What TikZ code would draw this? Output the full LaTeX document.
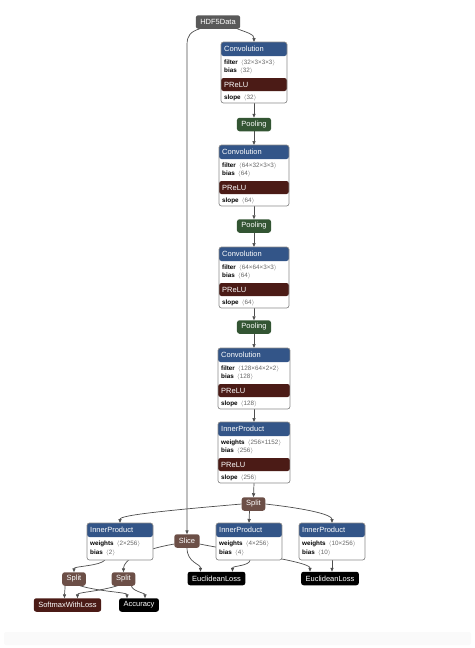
\documentclass[tikz,border=0pt]{standalone}
\usepackage{fontspec}
\setmainfont{Liberation Sans}
\usepackage{tikz}
\usetikzlibrary{arrows.meta}
\usetikzlibrary{backgrounds}

\definecolor{layerblue}{HTML}{335588}
\definecolor{actred}{HTML}{4B1B16}
\definecolor{poolgreen}{HTML}{335533}
\definecolor{tensorbrown}{HTML}{6C4F47}
\definecolor{datagray}{HTML}{595959}
\definecolor{boxgray}{HTML}{8A8A8A}
\definecolor{edgegray}{HTML}{4D4D4D}
\definecolor{valgray}{HTML}{666666}

\begin{document}
\begin{tikzpicture}[x=1pt, y=-1pt, >={Triangle[length=4pt,width=3.2pt]},
    line cap=round, line join=round,
    op/.style={rounded corners=2.5pt, text=white, font=\fontsize{7.5}{8}\selectfont,
        inner xsep=4.5pt, inner ysep=0pt, minimum height=13.5pt, outer sep=0pt},
    layer/.style={draw=boxgray, fill=white, line width=0.7pt, rounded corners=2.5pt,
        anchor=north, inner sep=0pt, outer sep=0pt, minimum width=#1},
    full/.style={layer=#1, minimum height=61pt, path picture={
        \fill[layerblue] (path picture bounding box.north west) rectangle ([yshift=-14pt]path picture bounding box.north east);
        \fill[actred] ([yshift=-36pt]path picture bounding box.north west) rectangle ([yshift=-49pt]path picture bounding box.north east);}},
    small/.style={layer=#1, minimum height=37pt, path picture={
        \fill[layerblue] (path picture bounding box.north west) rectangle ([yshift=-14pt]path picture bounding box.north east);}},
    ttl/.style={anchor=west, inner sep=0pt, text=white, font=\fontsize{7.5}{8}\selectfont},
    attr/.style={anchor=west, inner sep=0pt, font=\fontsize{6.3}{7}\selectfont},
    edge/.style={->, draw=edgegray, line width=0.7pt},
]

    \useasboundingbox (0,0) rectangle (474,648);
    \fill[gray!4, rounded corners=2pt] (4,632) rectangle (471,645);

    % input
    \node[op, fill=datagray] (hdf) at (218,22) {HDF5Data};

    % conv 1
    \node[full=66pt] (conv1) at (254,42) {};
    \node[ttl] (c1t) at ([xshift=3pt,yshift=-7pt]conv1.north west) {Convolution};
    \node[attr] (c1f) at ([xshift=3pt,yshift=-20.5pt]conv1.north west) {\textbf{filter}\hspace{3pt}{\color{valgray}$\langle$32×3×3×3$\rangle$}};
    \node[attr] (c1b) at ([xshift=3pt,yshift=-29pt]conv1.north west) {\textbf{bias}\hspace{3pt}{\color{valgray}$\langle$32$\rangle$}};
    \node[ttl] (c1p) at ([xshift=3pt,yshift=-42.5pt]conv1.north west) {PReLU};
    \node[attr] (c1s) at ([xshift=3pt,yshift=-55.5pt]conv1.north west) {\textbf{slope}\hspace{3pt}{\color{valgray}$\langle$32$\rangle$}};

    \node[op, fill=poolgreen] (pool1) at (254,124.5) {Pooling};

    % conv 2
    \node[full=70pt] (conv2) at (254,145) {};
    \node[ttl] (c2t) at ([xshift=3pt,yshift=-7pt]conv2.north west) {Convolution};
    \node[attr] (c2f) at ([xshift=3pt,yshift=-20.5pt]conv2.north west) {\textbf{filter}\hspace{3pt}{\color{valgray}$\langle$64×32×3×3$\rangle$}};
    \node[attr] (c2b) at ([xshift=3pt,yshift=-29pt]conv2.north west) {\textbf{bias}\hspace{3pt}{\color{valgray}$\langle$64$\rangle$}};
    \node[ttl] (c2p) at ([xshift=3pt,yshift=-42.5pt]conv2.north west) {PReLU};
    \node[attr] (c2s) at ([xshift=3pt,yshift=-55.5pt]conv2.north west) {\textbf{slope}\hspace{3pt}{\color{valgray}$\langle$64$\rangle$}};

    \node[op, fill=poolgreen] (pool2) at (254,226) {Pooling};

    % conv 3
    \node[full=70pt] (conv3) at (254,247) {};
    \node[ttl] (c3t) at ([xshift=3pt,yshift=-7pt]conv3.north west) {Convolution};
    \node[attr] (c3f) at ([xshift=3pt,yshift=-20.5pt]conv3.north west) {\textbf{filter}\hspace{3pt}{\color{valgray}$\langle$64×64×3×3$\rangle$}};
    \node[attr] (c3b) at ([xshift=3pt,yshift=-29pt]conv3.north west) {\textbf{bias}\hspace{3pt}{\color{valgray}$\langle$64$\rangle$}};
    \node[ttl] (c3p) at ([xshift=3pt,yshift=-42.5pt]conv3.north west) {PReLU};
    \node[attr] (c3s) at ([xshift=3pt,yshift=-55.5pt]conv3.north west) {\textbf{slope}\hspace{3pt}{\color{valgray}$\langle$64$\rangle$}};

    \node[op, fill=poolgreen] (pool3) at (254,327) {Pooling};

    % conv 4
    \node[full=72pt] (conv4) at (254,348) {};
    \node[ttl] (c4t) at ([xshift=3pt,yshift=-7pt]conv4.north west) {Convolution};
    \node[attr] (c4f) at ([xshift=3pt,yshift=-20.5pt]conv4.north west) {\textbf{filter}\hspace{3pt}{\color{valgray}$\langle$128×64×2×2$\rangle$}};
    \node[attr] (c4b) at ([xshift=3pt,yshift=-29pt]conv4.north west) {\textbf{bias}\hspace{3pt}{\color{valgray}$\langle$128$\rangle$}};
    \node[ttl] (c4p) at ([xshift=3pt,yshift=-42.5pt]conv4.north west) {PReLU};
    \node[attr] (c4s) at ([xshift=3pt,yshift=-55.5pt]conv4.north west) {\textbf{slope}\hspace{3pt}{\color{valgray}$\langle$128$\rangle$}};

    % fully connected
    \node[full=72pt] (ip1) at (254,422) {};
    \node[ttl] (i1t) at ([xshift=3pt,yshift=-7pt]ip1.north west) {InnerProduct};
    \node[attr] (i1w) at ([xshift=3pt,yshift=-20.5pt]ip1.north west) {\textbf{weights}\hspace{3pt}{\color{valgray}$\langle$256×1152$\rangle$}};
    \node[attr] (i1b) at ([xshift=3pt,yshift=-29pt]ip1.north west) {\textbf{bias}\hspace{3pt}{\color{valgray}$\langle$256$\rangle$}};
    \node[ttl] (i1p) at ([xshift=3pt,yshift=-42.5pt]ip1.north west) {PReLU};
    \node[attr] (i1s) at ([xshift=3pt,yshift=-55.5pt]ip1.north west) {\textbf{slope}\hspace{3pt}{\color{valgray}$\langle$256$\rangle$}};

    \node[op, fill=tensorbrown] (split) at (253.5,504) {Split};

    % three heads
    \node[small=66pt] (ipL) at (120,523) {};
    \node[ttl] (iLt) at ([xshift=3pt,yshift=-7pt]ipL.north west) {InnerProduct};
    \node[attr] (iLw) at ([xshift=3pt,yshift=-21pt]ipL.north west) {\textbf{weights}\hspace{3pt}{\color{valgray}$\langle$2×256$\rangle$}};
    \node[attr] (iLb) at ([xshift=3pt,yshift=-29.5pt]ipL.north west) {\textbf{bias}\hspace{3pt}{\color{valgray}$\langle$2$\rangle$}};

    \node[small=66pt] (ipM) at (249,523) {};
    \node[ttl] (iMt) at ([xshift=3pt,yshift=-7pt]ipM.north west) {InnerProduct};
    \node[attr] (iMw) at ([xshift=3pt,yshift=-21pt]ipM.north west) {\textbf{weights}\hspace{3pt}{\color{valgray}$\langle$4×256$\rangle$}};
    \node[attr] (iMb) at ([xshift=3pt,yshift=-29.5pt]ipM.north west) {\textbf{bias}\hspace{3pt}{\color{valgray}$\langle$4$\rangle$}};

    \node[small=66pt] (ipR) at (332,523) {};
    \node[ttl] (iRt) at ([xshift=3pt,yshift=-7pt]ipR.north west) {InnerProduct};
    \node[attr] (iRw) at ([xshift=3pt,yshift=-21pt]ipR.north west) {\textbf{weights}\hspace{3pt}{\color{valgray}$\langle$10×256$\rangle$}};
    \node[attr] (iRb) at ([xshift=3pt,yshift=-29.5pt]ipR.north west) {\textbf{bias}\hspace{3pt}{\color{valgray}$\langle$10$\rangle$}};

    \node[op, fill=tensorbrown] (slice) at (187,541) {Slice};

    % losses
    \node[op, fill=tensorbrown] (splitA) at (74,579) {Split};
    \node[op, fill=tensorbrown] (splitB) at (123.5,579) {Split};
    \node[op, fill=black] (el1) at (216.5,578.5) {EuclideanLoss};
    \node[op, fill=black] (el2) at (330,578.5) {EuclideanLoss};
    \node[op, fill=actred] (sm) at (67.5,605) {SoftmaxWithLoss};
    \node[op, fill=black] (acc) at (139,605) {Accuracy};

    \begin{scope}[on background layer]
    \draw[edge] ([xshift=-3pt]hdf.south east) .. controls +(10,4) and +(0,-8) .. (conv1.north);
    \draw[edge] ([xshift=4pt]hdf.south west) .. controls +(-9,3) and +(0,-10) .. (slice.north |- 0,45) -- (slice.north);

    \draw[edge] (conv1.south) -- (pool1.north);
    \draw[edge] (pool1.south) -- (conv2.north);
    \draw[edge] (conv2.south) -- (pool2.north);
    \draw[edge] (pool2.south) -- (conv3.north);
    \draw[edge] (conv3.south) -- (pool3.north);
    \draw[edge] (pool3.south) -- (conv4.north);
    \draw[edge] (conv4.south) -- (ip1.north);
    \draw[edge] (ip1.south) -- (split.north);

    \draw[edge] (split.west) .. controls +(-70,6) and +(0,-8) .. (ipL.north);
    \draw[edge] ([xshift=-4pt]split.south) -- (ipM.north);
    \draw[edge] (split.east) .. controls +(45,5) and +(0,-8) .. (ipR.north);

    \draw[edge] ([yshift=-3pt]slice.west) .. controls +(-35,6) and +(0,-12) .. (splitB.north);
    \draw[edge] (slice.south) .. controls +(0,15) and +(0,-8) .. ([xshift=-16pt]el1.north);
    \draw[edge] ([yshift=-3pt]slice.east) .. controls +(40,8) and +(0,-10) .. ([xshift=-20pt]el2.north);

    \draw[edge] ([xshift=-15pt]ipL.south) .. controls +(-5,6) and +(0,-6) .. (splitA.north);
    \draw[edge] ([xshift=1pt]ipM.south) .. controls +(0,6) and +(0,-6) .. ([xshift=16pt]el1.north);
    \draw[edge] (ipR.south) -- (ipR.south |- el2.north);

    \draw[edge] ([xshift=-9pt]splitA.south) .. controls +(0,5) and +(0,-5) .. ([xshift=-3pt]sm.north);
    \draw[edge] ([xshift=6pt]splitA.south) .. controls +(20,6) and +(0,-6) .. ([xshift=-12pt]acc.north);
    \draw[edge] ([xshift=-6pt]splitB.south) .. controls +(-20,6) and +(0,-6) .. ([xshift=10pt]sm.north);
    \draw[edge] ([xshift=8pt]splitB.south) .. controls +(0,5) and +(0,-5) .. ([xshift=6pt]acc.north);
    \end{scope}

\end{tikzpicture}
\end{document}
